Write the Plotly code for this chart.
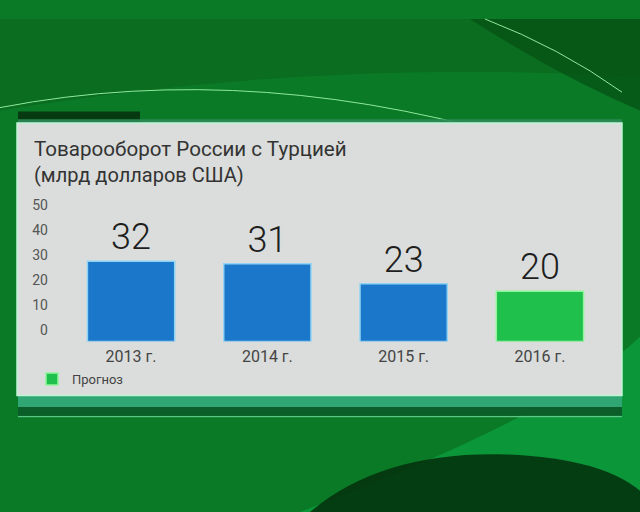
import plotly.graph_objects as go

# ---- data ----
categories = ["2013 г.", "2014 г.", "2015 г.", "2016 г."]
actual_values = [32, 31, 23, None]
forecast_values = [None, None, None, 20]
value_labels = ["32", "31", "23", "20"]
y_tick_vals = [0, 10, 20, 30, 40, 50]
title_text = "Товарооборот России с Турцией"
subtitle_text = "(млрд долларов США)"
legend_text = "Прогноз"

W, H = 640, 512

def px(x):
    return x / W

def py(y):
    return (H - y) / H

fig = go.Figure()

fig.add_trace(go.Bar(
    x=categories, y=actual_values,
    marker=dict(color="#1b77c9", line=dict(color="#8fd3f5", width=1.5)),
    text=[value_labels[i] if actual_values[i] is not None else "" for i in range(4)],
    textposition="outside",
    textfont=dict(family="Roboto", size=36, color="#1e1e1e", weight=300),
    cliponaxis=False,
    showlegend=False,
    hoverinfo="skip",
))
fig.add_trace(go.Bar(
    x=categories, y=forecast_values,
    name=legend_text,
    marker=dict(color="#20c04c", line=dict(color="#8ef59a", width=1.5)),
    text=[value_labels[i] if forecast_values[i] is not None else "" for i in range(4)],
    textposition="outside",
    textfont=dict(family="Roboto", size=36, color="#1e1e1e", weight=300),
    cliponaxis=False,
    showlegend=True,
    hoverinfo="skip",
))

shapes = []
shapes.append(dict(type="rect", xref="paper", yref="paper", x0=0, x1=1, y0=0, y1=1,
                   fillcolor="#0a7a26", line=dict(width=0), layer="below"))
shapes.append(dict(type="path", xref="paper", yref="paper",
                   path=f"M 0 1 L {px(640)} 1 L {px(640)} {py(60)} Q {px(320)} {py(40)} 0 {py(95)} Z",
                   fillcolor="#0a6a1e", opacity=0.8, line=dict(width=0), layer="below"))
shapes.append(dict(type="path", xref="paper", yref="paper",
                   path=f"M {px(470)} 1 L {px(640)} 1 L {px(640)} {py(95)} Q {px(560)} {py(60)} {px(470)} 1 Z",
                   fillcolor="#064f14", opacity=0.7, line=dict(width=0), layer="below"))
shapes.append(dict(type="path", xref="paper", yref="paper",
                   path=f"M {px(300)} 0 L {px(640)} 0 L {px(640)} {py(330)} Q {px(560)} {py(410)} {px(300)} 0 Z",
                   fillcolor="#0d9e40", opacity=0.8, line=dict(width=0), layer="below"))
shapes.append(dict(type="path", xref="paper", yref="paper",
                   path=f"M {px(310)} 0 Q {px(380)} {py(450)} {px(500)} {py(452)} Q {px(600)} {py(455)} {px(640)} {py(490)} L {px(640)} 0 Z",
                   fillcolor="#052e0c", opacity=0.85, line=dict(width=0), layer="below"))
shapes.append(dict(type="path", xref="paper", yref="paper",
                   path=f"M 0 {py(92)} Q {px(260)} {py(40)} {px(545)} {py(133)}",
                   line=dict(color="#8ee89a", width=1), layer="below"))
shapes.append(dict(type="path", xref="paper", yref="paper",
                   path=f"M {px(485)} 1 Q {px(560)} {py(30)} {px(622)} {py(76)}",
                   line=dict(color="#8ee89a", width=1), layer="below"))
shapes.append(dict(type="rect", xref="paper", yref="paper", x0=px(18), x1=px(140), y0=py(108), y1=py(96),
                   fillcolor="#062a0c", opacity=0.8, line=dict(width=0), layer="below"))
shapes.append(dict(type="rect", xref="paper", yref="paper", x0=px(18), x1=px(622), y0=py(108), y1=py(104),
                   fillcolor="#2d8a5a", opacity=0.9, line=dict(width=0), layer="below"))
shapes.append(dict(type="rect", xref="paper", yref="paper", x0=px(18), x1=px(622), y0=py(403), y1=py(391),
                   fillcolor="#2fa673", line=dict(width=0), layer="below"))
shapes.append(dict(type="rect", xref="paper", yref="paper", x0=px(18), x1=px(622), y0=py(412), y1=py(403),
                   fillcolor="#0b5e2a", line=dict(width=0), layer="below"))
shapes.append(dict(type="line", xref="paper", yref="paper", x0=px(18), x1=px(622), y0=py(413), y1=py(413),
                   line=dict(color="#6fd49a", width=1), layer="below"))
shapes.append(dict(type="rect", xref="paper", yref="paper", x0=px(17), x1=px(622), y0=py(391), y1=py(108),
                   fillcolor="#dadddb", line=dict(color="#bff5d4", width=1.5), layer="below"))

annotations = [
    dict(text=title_text, xref="paper", yref="paper", x=px(32), y=py(134.5),
         xanchor="left", yanchor="middle", showarrow=False,
         font=dict(family="Roboto", size=20.6, color="#333333")),
    dict(text=subtitle_text, xref="paper", yref="paper", x=px(32), y=py(162),
         xanchor="left", yanchor="middle", showarrow=False,
         font=dict(family="Roboto", size=20, color="#333333")),
]

fig.update_layout(
    width=W, height=H,
    margin=dict(l=0, r=0, t=0, b=0),
    paper_bgcolor="#0a7a26",
    plot_bgcolor="rgba(0,0,0,0)",
    barmode="relative",
    bargap=0.36,
    shapes=shapes,
    annotations=annotations,
    showlegend=True,
    legend=dict(x=px(32), y=py(374), xanchor="left", yanchor="middle",
                bgcolor="rgba(0,0,0,0)", font=dict(family="Roboto", size=13, color="#444444"),
                itemwidth=30),
    xaxis=dict(domain=[px(62.9), px(608.1)], range=[-0.5, 3.5], type="category",
               showgrid=False, zeroline=False, showline=False, ticks="",
               tickfont=dict(family="Roboto", size=16, color="#444444"),
               ticklabelstandoff=3, fixedrange=True),
    yaxis=dict(domain=[py(335), py(204.5)], range=[0, 50], tickvals=y_tick_vals,
               showgrid=False, zeroline=False, showline=False, ticks="",
               tickfont=dict(family="Roboto", size=14, color="#555555"),
               ticklabelstandoff=14, ticklabelshift=-11, fixedrange=True),
)

post_js = (
    "var s=document.createElement('style');"
    "s.textContent='html,body{margin:0!important;padding:0!important;overflow:hidden;}';"
    "document.head.appendChild(s);"
)

fig.write_html(
    "out.html",
    config={"displayModeBar": False},
    post_script=post_js,
)
